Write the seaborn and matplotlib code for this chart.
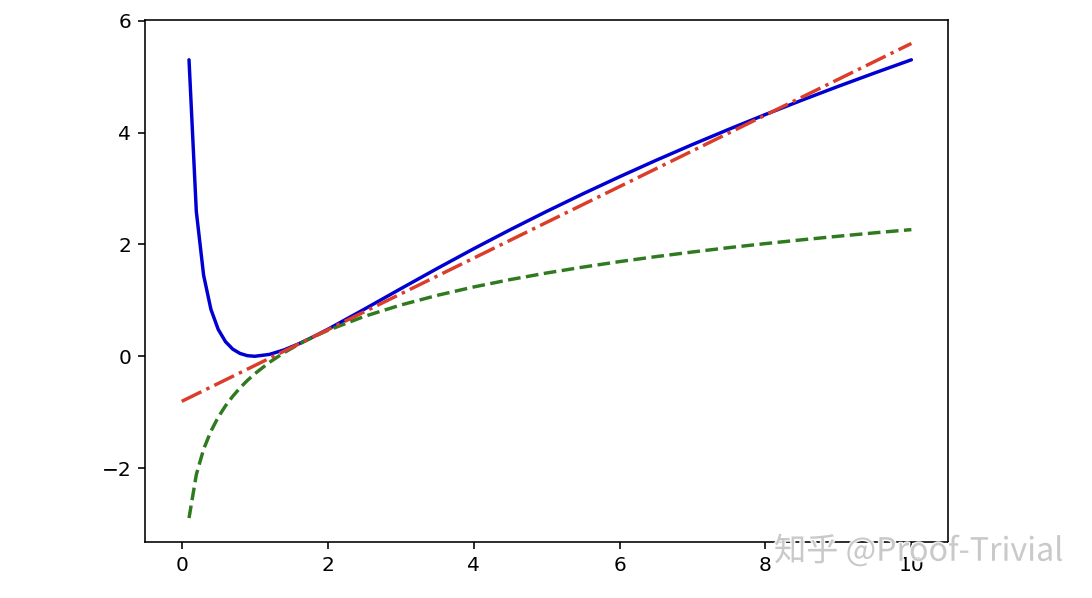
import numpy as np
import pandas as pd
import matplotlib
matplotlib.use("Agg")
import matplotlib.pyplot as plt
import matplotlib.patheffects as pe
import seaborn as sns

# Values
x_curve = [0.1, 0.2, 0.3, 0.4, 0.5, 0.6, 0.7, 0.8, 0.9, 1.0, 1.2, 1.4, 1.6, 1.8,
           2.0, 2.5, 3.0, 3.5, 4.0, 4.5, 5.0, 5.5, 6.0, 6.5, 7.0, 7.5, 8.0, 8.5,
           9.0, 9.5, 10.0]
blue_y = [5.302, 2.590, 1.450, 0.840, 0.481, 0.261, 0.127, 0.050, 0.011, 0.000,
          0.033, 0.113, 0.221, 0.346, 0.481, 0.840, 1.207, 1.569, 1.922, 2.262,
          2.590, 2.906, 3.210, 3.504, 3.787, 4.060, 4.324, 4.580, 4.828, 5.068,
          5.302]
green_y = [-2.893, -2.117, -1.662, -1.340, -1.090, -0.886, -0.714, -0.564, -0.432,
           -0.314, -0.110, 0.063, 0.212, 0.344, 0.462, 0.712, 0.916, 1.089, 1.239,
           1.371, 1.489, 1.595, 1.693, 1.782, 1.865, 1.943, 2.015, 2.083, 2.147,
           2.208, 2.265]
x_line = [0.0, 10.0]
red_y = [-0.806, 5.594]

sns.set_theme(style="ticks", rc={
    "axes.edgecolor": "black",
    "axes.linewidth": 0.8,
    "xtick.color": "black",
    "ytick.color": "black",
    "xtick.major.size": 3.5,
    "ytick.major.size": 3.5,
    "xtick.major.width": 0.8,
    "ytick.major.width": 0.8,
    "font.size": 10,
    "xtick.labelsize": 10,
    "ytick.labelsize": 10,
})
plt.rcParams["font.family"] = ["DejaVu Sans", "Noto Sans CJK SC"]

dpi = 145
fig = plt.figure(figsize=(1092 / dpi, 598 / dpi), dpi=dpi)
ax = fig.add_axes([0.133, 0.094, 0.735, 0.873])

df_b = pd.DataFrame({"x": x_curve, "y": blue_y})
df_g = pd.DataFrame({"x": x_curve, "y": green_y})
df_r = pd.DataFrame({"x": x_line, "y": red_y})

lw = 1.7
sns.lineplot(data=df_b, x="x", y="y", ax=ax, color="#0000d2", linewidth=lw,
             sort=False, estimator=None)
sns.lineplot(data=df_g, x="x", y="y", ax=ax, color="#2f7a1f", linewidth=lw,
             linestyle="--", sort=False, estimator=None)
sns.lineplot(data=df_r, x="x", y="y", ax=ax, color="#dc3c2a", linewidth=lw,
             linestyle="-.", sort=False, estimator=None)

ax.set_xlabel("")
ax.set_ylabel("")
ax.set_xticks([0, 2, 4, 6, 8, 10])
ax.set_yticks([-2, 0, 2, 4, 6])
for s in ax.spines.values():
    s.set_visible(True)

fig.text(0.974, 0.078, "知乎 @Proof-Trivial", ha="right", va="center",
         fontsize=16, color="#c4c4c4", alpha=0.9,
         family=["Noto Sans CJK SC", "DejaVu Sans"],
         path_effects=[pe.withStroke(linewidth=1.5, foreground="white")])

fig.savefig("out.png", dpi=dpi)
